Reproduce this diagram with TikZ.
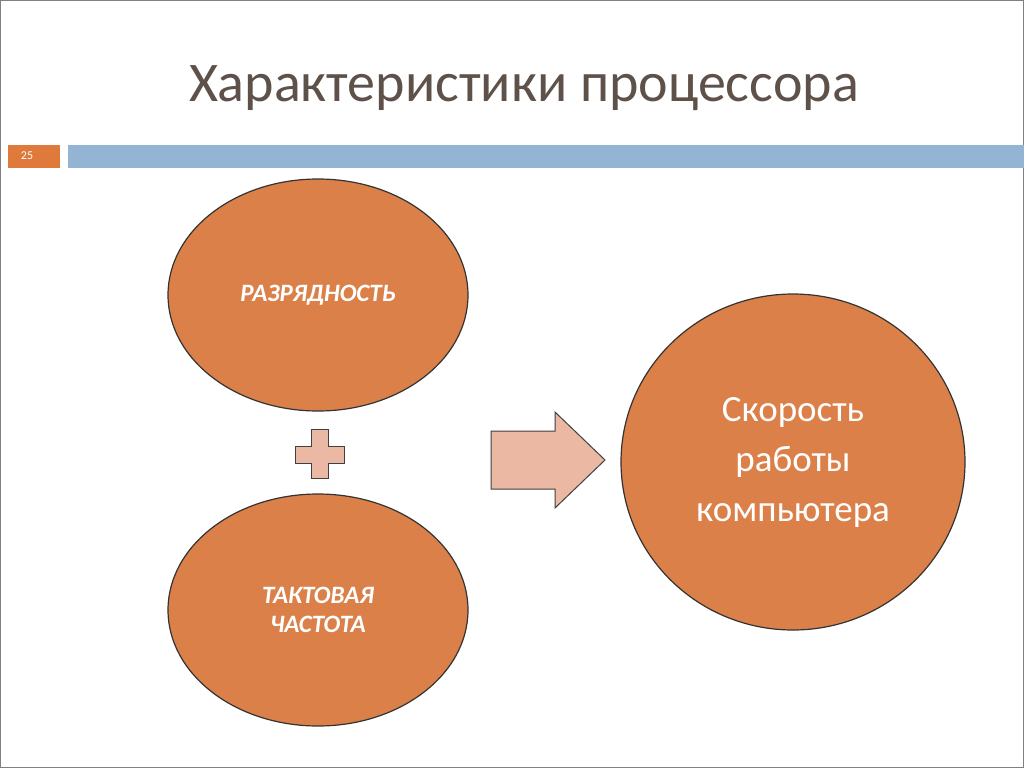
\documentclass[tikz,border=0pt]{standalone}
\usepackage{fontspec}
\setmainfont{Carlito}
\usetikzlibrary{positioning}
\definecolor{titlegray}{HTML}{5E5149}
\definecolor{barblue}{HTML}{93B5D3}
\definecolor{numorange}{HTML}{E0793C}
\definecolor{discfill}{HTML}{DB8049}
\definecolor{discedge}{HTML}{B8602E}
\definecolor{pinkfill}{HTML}{EBB8A4}
\tikzset{
  disc/.style={ellipse, draw=black!80, line width=1.2pt, fill=discfill,
    text=white, font=\fontsize{25}{29}\selectfont\bfseries\itshape, align=center},
  pinkshape/.style={draw=black!75, line width=1pt, fill=pinkfill}
}
\usetikzlibrary{shapes.geometric}
\begin{document}
\begin{tikzpicture}[x=1pt,y=-1pt]
  \useasboundingbox (0,0) rectangle (1024,768);
  \fill[white] (0,0) rectangle (1024,768);
  \draw[black!50, line width=0.8pt] (0.5,0.5) rectangle (1023.5,767.5);

  % title and bar
  \node (title) [text=titlegray, font=\fontsize{56}{60}\selectfont] at (524,88) {Характеристики процессора};
  \fill[numorange] (8,145) rectangle (60,168);
  \node (num) [text=white, font=\fontsize{12}{14}\selectfont] at (27,156) {25};
  \fill[barblue] (68,145) rectangle (1024,168);

  % discs
  \node (bits) [disc, minimum width=300pt, minimum height=232pt] at (318,295) {РАЗРЯДНОСТЬ};
  \node (clock) [disc, minimum width=300pt, minimum height=232pt] at (318,610) {ТАКТОВАЯ\\ЧАСТОТА};
  \node (speed) [disc, minimum width=344pt, minimum height=336pt,
    font=\fontsize{37}{50}\selectfont] at (793,462) {Скорость\\работы\\компьютера};

  % plus sign
  \draw[pinkshape] (311,429) -- (328,429) -- (328,446) -- (344,446) -- (344,463) -- (328,463)
    -- (328,478) -- (311,478) -- (311,463) -- (295,463) -- (295,446) -- (311,446) -- cycle;
  \coordinate (plus) at (319,454);

  % arrow
  \draw[pinkshape] (491,431) -- (555,431) -- (555,412) -- (605,460) -- (555,508)
    -- (555,489) -- (491,489) -- cycle;
\end{tikzpicture}
\end{document}
